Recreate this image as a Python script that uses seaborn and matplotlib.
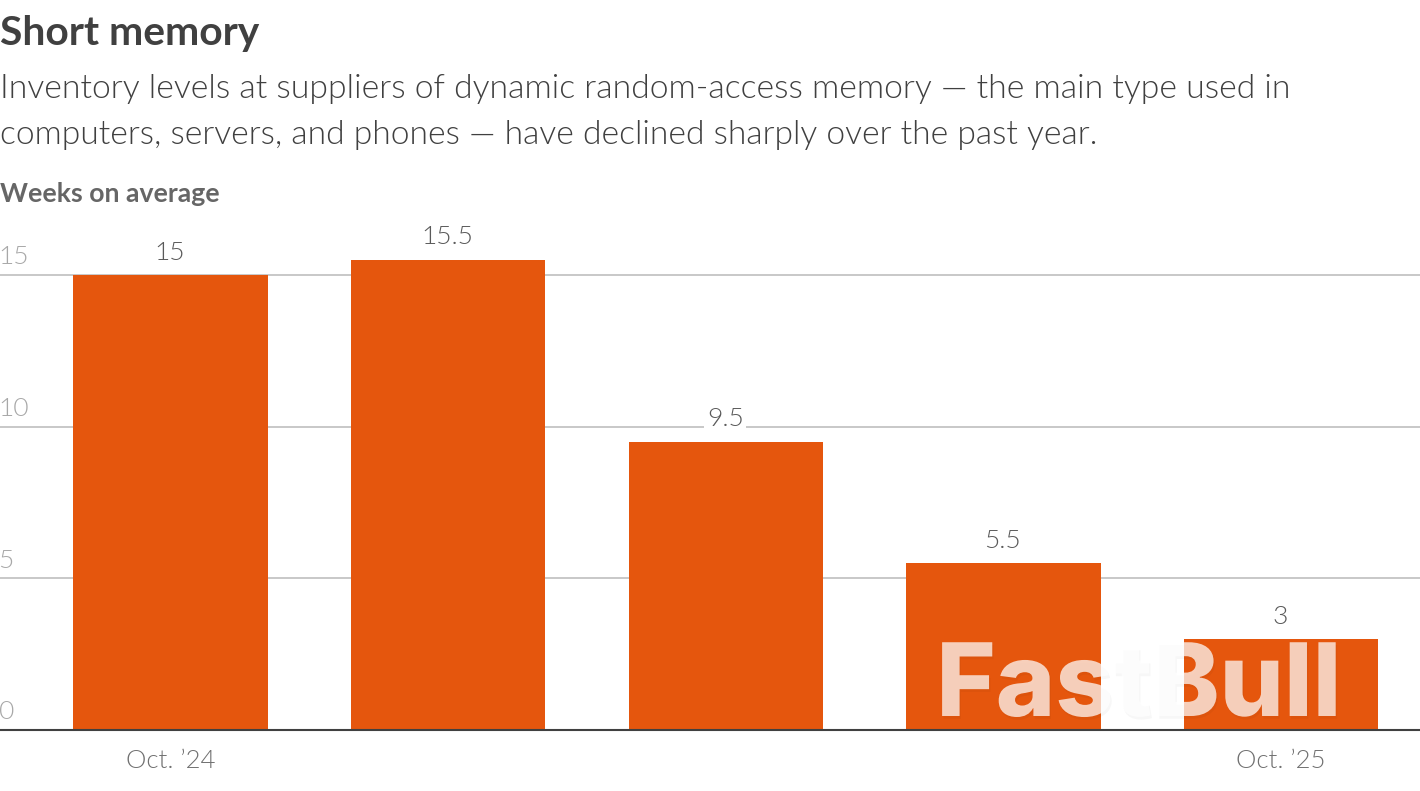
import pandas as pd
import seaborn as sns
import matplotlib.pyplot as plt
import matplotlib.patheffects as pe

periods = ['Oct. ’24', 'Jan. ’25', 'Apr. ’25', 'Jul. ’25', 'Oct. ’25']
weeks = [15, 15.5, 9.5, 5.5, 3]
value_labels = ['15', '15.5', '9.5', '5.5', '3']
y_ticks = [0, 5, 10, 15]

W, H = 1420, 791

df = pd.DataFrame({'period': periods, 'weeks': weeks})

sns.set_theme(style="white")
plt.rcParams['font.family'] = ['Lato', 'DejaVu Sans']

fig = plt.figure(figsize=(W / 100, H / 100), dpi=100)
ax = fig.add_axes([0, 1 - 730 / H, 1, 520 / H])

sns.barplot(x='period', y='weeks', data=df, color='#e5560d', saturation=1, width=0.7, linewidth=0, ax=ax, zorder=3)

ax.set_xlim(-0.614, 4.5)
ax.set_ylim(0, 520 / 30.33)
ax.set_xlabel('')
ax.set_ylabel('')
sns.despine(ax=ax, left=True, top=True, right=True)
ax.spines['bottom'].set_color('#404040')
ax.spines['bottom'].set_linewidth(1.5)
ax.spines['bottom'].set_zorder(5)
ax.tick_params(left=False, bottom=False, labelleft=False, labelbottom=False)

# gridlines, with the tick numbers sitting on top of them at the left edge
ax.set_yticks(y_ticks)
ax.grid(axis='y', color='#c8c8c8', linewidth=1.4, zorder=0)
ax.set_axisbelow(True)
for t in y_ticks:
    ax.annotate(str(t), (0, t), xycoords=ax.get_yaxis_transform(), xytext=(-1, 4),
                textcoords='offset points', fontsize=19, fontweight=300,
                color='#a8a8a8', ha='left', va='bottom', annotation_clip=False)

for i, (v, lab) in enumerate(zip(weeks, value_labels)):
    ax.annotate(lab, (i, v), xytext=(-0.5, 7.5), textcoords='offset points', ha='center', va='bottom',
                fontsize=19, fontweight=300, color='#5a5a5a', zorder=4,
                bbox=dict(facecolor='white', edgecolor='none', pad=2))

# only the two end months are labelled
for i in [0, 4]:
    ax.annotate(periods[i], (i, 0), xytext=(0, -14), textcoords='offset points', ha='center', va='top',
                fontsize=18.5, fontweight=300, color='#707070', annotation_clip=False)

fig.text(0, 1 - 45 / H, 'Short memory', fontsize=29.3, fontweight='bold', color='#404040', ha='left', va='baseline')
fig.text(0, 1 - 98 / H, 'Inventory levels at suppliers of dynamic random-access memory — the main type used in',
         fontsize=24.35, fontweight=300, color='#404040', ha='left', va='baseline')
fig.text(0, 1 - 144 / H, 'computers, servers, and phones — have declined sharply over the past year.',
         fontsize=24.2, fontweight=300, color='#404040', ha='left', va='baseline')
fig.text(0, 1 - 202 / H, 'Weeks on average', fontsize=19.2, fontweight='bold', color='#666666', ha='left', va='baseline')

# watermark
fig.text(1139 / W, 1 - 716 / H, 'FastBull', fontsize=73, fontweight=800, family='Inter', color='white', alpha=0.72,
         ha='center', va='baseline', zorder=10,
         path_effects=[pe.withSimplePatchShadow(offset=(1, -2), shadow_rgbFace='#000000', alpha=0.03)])

fig.savefig('out.png', dpi=100)
